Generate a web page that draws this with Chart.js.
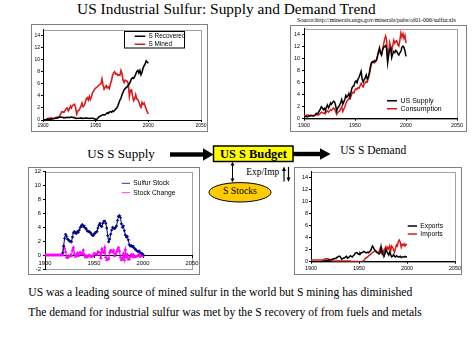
<!DOCTYPE html>
<html><head><meta charset="utf-8">
<script src="https://cdn.jsdelivr.net/npm/chart.js@4.4.0/dist/chart.umd.min.js"></script>
<style>
html,body{margin:0;padding:0;background:#fff;}
body{width:474px;height:355px;position:relative;overflow:hidden;font-family:'Liberation Serif','Times New Roman',serif;color:#000;}
.t{position:absolute;white-space:nowrap;line-height:1;font-family:'Liberation Serif','Times New Roman',serif;}
.frame{position:absolute;border:1px solid #808080;box-sizing:border-box;pointer-events:none;}
canvas{position:absolute;}
svg{position:absolute;left:0;top:0;}
</style></head><body>

<svg width="474" height="355" viewBox="0 0 474 355">
  <rect x="170" y="152.3" width="34" height="4.4" fill="#000"/>
  <polygon points="203,148.3 213.5,154.5 203,160.7" fill="#000"/>
  <rect x="293" y="151.8" width="28" height="4.4" fill="#000"/>
  <polygon points="320,148.3 330.5,154 320,159.7" fill="#000"/>
  <rect x="213.5" y="146" width="79.5" height="15.5" fill="#FFFF00" stroke="#000" stroke-width="1.5"/>
  <line x1="232.5" y1="164" x2="232.5" y2="180" stroke="#000" stroke-width="1"/>
  <polygon points="232.5,161.8 230.5,165.5 234.5,165.5" fill="#000"/>
  <polygon points="232.5,182.3 230.5,178.6 234.5,178.6" fill="#000"/>
  <ellipse cx="240" cy="192.3" rx="31" ry="9.7" fill="#FFCC00" stroke="#000" stroke-width="1"/>
  <line x1="284" y1="170" x2="284" y2="181.5" stroke="#000" stroke-width="1.2"/>
  <polygon points="284,166.5 282,171 286,171" fill="#000"/>
  <line x1="288.5" y1="167" x2="288.5" y2="178.5" stroke="#000" stroke-width="1.2"/>
  <polygon points="288.5,182 286.5,177.5 290.5,177.5" fill="#000"/>
</svg>

<div class="t" data-x="77" data-cy="9.3" data-w="299">US Industrial Sulfur: Supply and Demand Trend</div>
<div class="t" data-x="297" data-cy="20.3" data-w="159">Source:http://minerals.usgs.gov/minerals/pubs/of01-006/sulfur.xls</div>
<div class="t" data-x="87.3" data-cy="154" data-w="67.7">US S Supply</div>
<div class="t" data-x="340.3" data-cy="151" data-w="66">US S Demand</div>
<div class="t" data-x="220" data-cy="154" data-w="67" style="font-weight:bold">US S Budget</div>
<div class="t" data-x="223" data-cy="191" data-w="34">S Stocks</div>
<div class="t" data-x="246.3" data-cy="173.3" data-w="33">Exp/Imp</div>
<div class="t" data-x="28.3" data-cy="293.3" data-w="384.4">US was a leading source of mined sulfur in the world but S mining has diminished</div>
<div class="t" data-x="28.3" data-cy="313.3" data-w="393.7">The demand for industrial sulfur was met by the S recovery of from fuels and metals</div>

<canvas id="c1"></canvas><div class="frame" id="f1"></div>
<canvas id="c2"></canvas><div class="frame" id="f2"></div>
<canvas id="c3"></canvas><div class="frame" id="f3"></div>
<canvas id="c4"></canvas><div class="frame" id="f4"></div>

<script>
// ---------- data ----------
const years = Array.from({length: 101}, (_, i) => 1900 + i);
const xTickValues = [1900, 1950, 2000, 2050];
const yTicksFlow = [0, 2, 4, 6, 8, 10, 12, 14];
const yTicksStock = [-2, 0, 2, 4, 6, 8, 10, 12];

const recoveredS = [
  0.0,0.0,0.05,0.05,0.1,0.1,0.1,0.15,0.15,0.2,
  0.2,0.25,0.3,0.3,0.35,0.4,0.45,0.5,0.45,0.4,
  0.4,0.35,0.45,0.4,0.45,0.4,0.45,0.5,0.45,0.4,
  0.4,0.3,0.25,0.3,0.3,0.3,0.35,0.3,0.25,0.3,
  0.3,0.35,0.3,0.3,0.25,0.3,0.3,0.3,0.25,0.2,
  0.05,0.1,0.3,0.5,0.6,0.7,0.8,0.9,0.8,0.9,
  1.0,1.2,1.1,1.3,1.4,1.3,1.5,1.4,1.6,1.8,
  2.0,2.3,2.8,3.3,3.6,4.2,4.6,5.0,5.2,5.4,
  5.5,5.8,6.0,6.4,6.8,7.0,6.9,7.2,7.6,8.0,
  8.2,7.8,8.2,7.5,7.9,8.6,9.0,9.3,9.8,9.6,9.4
];
const minedS = [
  0.0,0.0,0.05,0.1,0.2,0.3,0.3,0.3,0.35,0.3,
  0.25,0.3,0.4,0.45,0.5,0.5,0.7,1.1,1.4,1.3,
  1.3,1.6,1.9,2.0,1.5,1.8,2.3,2.0,2.4,2.5,
  2.6,2.0,1.0,1.5,1.6,1.9,2.3,2.8,2.2,2.4,
  2.8,3.5,3.7,3.3,3.9,3.4,3.9,4.5,4.8,5.1,
  5.3,5.4,5.6,5.8,5.9,6.0,6.8,5.8,5.1,5.4,
  5.7,5.3,5.5,5.2,6.0,6.5,7.4,7.8,8.0,7.6,
  7.7,7.4,7.5,7.4,8.2,7.7,6.6,6.2,6.6,6.5,
  6.4,6.0,3.9,4.9,5.0,4.0,3.2,3.5,4.2,3.5,
  3.4,3.0,2.4,2.1,2.9,2.6,2.8,2.3,1.8,1.3,1.0
];
const supplyUS = [
  0.3,0.35,0.4,0.3,0.4,0.5,0.45,0.5,0.5,0.45,
  0.5,0.6,0.9,0.8,1.0,1.3,1.6,2.0,1.8,1.5,
  1.7,1.3,2.0,2.3,1.8,2.1,2.6,2.4,2.7,2.9,
  2.8,2.2,1.3,1.8,2.0,2.3,2.7,3.2,2.4,2.8,
  3.2,3.9,3.6,3.8,4.2,3.6,4.4,5.1,5.4,5.5,
  6.1,6.3,6.0,6.6,6.9,7.4,7.9,6.6,6.1,6.5,
  6.8,7.3,6.6,6.9,7.6,8.6,9.3,9.5,9.4,9.7,
  9.6,9.7,10.3,11.0,11.8,11.0,10.6,11.4,11.9,12.0,
  12.2,11.6,9.3,10.6,11.5,11.8,10.2,10.8,11.2,11.0,
  11.4,11.2,10.8,10.6,11.0,11.2,11.9,12.1,11.9,11.3,10.4
];
const consumptionUS = [
  0.6,0.5,0.5,0.6,0.6,0.5,0.55,0.6,0.55,0.5,
  0.6,0.6,0.65,0.7,0.6,0.7,0.9,1.1,1.0,0.9,
  1.0,0.8,1.2,1.3,1.1,1.3,1.5,1.4,1.6,1.8,
  1.6,1.2,0.7,1.0,1.2,1.3,1.7,2.0,1.2,1.6,
  1.9,2.5,2.9,3.1,3.4,3.3,3.7,4.2,4.4,4.3,
  4.8,5.0,4.9,5.2,5.1,5.5,5.9,5.5,5.3,5.8,
  6.0,6.2,6.1,6.7,7.3,8.2,9.0,9.5,9.4,9.3,
  9.4,9.8,10.6,11.2,11.6,10.9,10.7,11.5,12.4,13.2,
  13.8,13.1,10.1,11.2,12.7,12.0,11.0,12.2,13.1,12.6,
  12.9,13.0,12.3,12.1,13.1,14.3,13.6,14.2,13.4,13.9,12.6
];
const sulfurStock = [
  null,null,null,null,null,null,null,null,null,null,
  null,null,null,null,null,null,null,null,0.3,1.3,
  2.4,3.0,2.7,2.3,2.2,2.0,2.0,1.9,2.6,3.2,
  3.4,3.2,3.1,3.4,3.3,3.6,4.0,4.2,4.4,4.1,
  4.2,3.9,3.8,3.5,3.4,3.4,3.3,3.1,2.9,2.8,
  3.0,3.2,3.3,3.4,3.9,4.3,4.6,4.2,4.1,4.6,
  4.9,4.9,4.6,3.9,2.8,1.9,2.3,3.0,3.6,4.0,
  3.9,3.8,4.0,4.2,5.0,5.6,5.7,5.4,4.5,4.0,
  4.2,3.5,2.9,2.6,2.7,2.2,1.5,1.3,1.4,1.2,
  1.3,1.0,0.9,0.7,0.6,0.5,0.6,0.4,0.3,0.2,0.1
];
const stockChange = [
  0,0,0,0,0,0,0,0,0,0,
  0,0,0,0,0,0,0,0,0,1.3,
  1.0,0.5,-0.3,-0.4,-0.1,-0.2,0.0,-0.1,0.7,1.1,
  0.2,-0.2,-0.1,0.3,-0.1,0.3,0.4,0.2,0.1,0.7,
  0.1,-0.3,-0.1,-0.3,-0.1,0.0,-0.1,-0.2,-0.2,-0.1,
  0.2,0.2,0.1,0.1,0.5,0.4,0.3,-0.4,0.9,0.5,
  0.3,1.1,-0.3,-0.7,-0.6,-0.5,0.4,0.7,0.6,0.4,
  0.7,-0.1,0.2,0.5,0.8,1.1,0.6,-0.3,-0.7,-0.5,
  0.2,-0.7,0.8,-0.3,0.1,-0.6,-0.6,-0.2,0.1,-0.2,
  0.1,-0.3,-0.2,-0.2,-0.1,-0.1,0.1,-0.2,-0.1,-0.1,-0.1
];
const exportsS = [
  0,0,0,0,0,0,0,0,0,0,
  0,0,0.05,0.1,0.1,0.15,0.2,0.2,0.25,0.3,
  0.3,0.35,0.4,0.5,0.45,0.55,0.6,0.7,0.8,0.9,
  0.9,0.7,0.4,0.5,0.6,0.6,0.8,0.9,0.6,0.7,
  0.8,1.0,0.9,0.8,1.0,1.1,1.4,1.5,1.5,1.3,
  1.2,1.5,1.4,1.5,1.6,1.7,1.6,1.5,1.5,1.6,
  1.5,1.7,1.8,2.2,2.6,2.4,2.0,1.9,1.6,1.5,
  1.4,1.3,1.5,2.5,1.6,1.2,1.0,1.3,2.0,1.7,
  1.4,1.1,1.6,1.2,0.8,0.9,1.2,0.9,0.8,1.0,
  0.9,0.8,0.8,0.9,0.7,0.8,0.8,0.8,0.9,0.8,0.8
];
const importsS = [
  0.3,0.3,0.3,0.3,0.3,0.3,0.3,0.3,0.3,0.3,
  0.3,0.3,0.3,0.35,0.4,0.5,0.5,0.5,0.45,0.4,
  0.3,0.2,0.15,0.1,0.1,0.1,0.1,0.1,0.1,0.1,
  0.1,0.1,0.1,0.1,0.1,0.1,0.1,0.1,0.1,0.1,
  0.1,0.1,0.05,0.05,0.05,0.05,0.05,0.05,0.05,0.05,
  0.0,0.0,0.0,0.05,0.1,0.2,0.4,0.6,0.7,0.8,
  1.0,1.1,1.2,1.4,1.5,1.6,1.7,1.8,1.7,1.6,
  1.5,1.7,2.2,1.6,1.3,1.9,1.4,2.2,2.5,2.0,
  2.4,2.1,2.6,1.8,2.6,2.4,2.0,1.6,2.2,2.8,
  2.6,3.4,3.6,3.2,2.4,2.9,2.7,3.0,2.6,2.9,2.8
];

// ---------- text fitting ----------
document.querySelectorAll('.t').forEach(el => {
  el.style.fontSize = '20px';
  const w = el.getBoundingClientRect().width;
  const fs = 20 * (+el.dataset.w) / w;
  el.style.fontSize = fs + 'px';
  el.style.left = el.dataset.x + 'px';
  el.style.top = (+el.dataset.cy - 0.51 * fs) + 'px';
});

// ---------- plugins ----------
const plotBox = {
  id: 'plotBox',
  beforeDraw(chart, args, o) {
    const a = chart.chartArea, c = chart.ctx;
    c.save();
    c.strokeStyle = o.color || '#9a9a9a';
    c.lineWidth = 1;
    c.strokeRect(Math.round(a.left) + 0.5, Math.round(a.top) + 0.5,
      Math.round(a.right) - Math.round(a.left), Math.round(a.bottom) - Math.round(a.top));
    c.restore();
  },
  afterDraw(chart, args, o) {
    if (!o.legendFrame) return;
    const lg = chart.legend, c = chart.ctx;
    c.save();
    c.strokeStyle = '#000';
    c.lineWidth = 1;
    const x0 = Math.round(lg.left - o.legendFrame[0]) + 0.5;
    const y0 = Math.round(lg.top) + 0.5;
    c.strokeRect(x0, y0, o.legendFrame[1], o.legendFrame[2]);
    c.restore();
  }
};
const legendPlace = {
  id: 'legendPlace',
  afterLayout(chart, args, o) {
    const lg = chart.legend;
    if (!lg || o.x === undefined) return;
    const lab = chart.options.plugins.legend.labels;
    lg.left = o.x - lab.padding;
    lg.top = o.y - lab.padding - lab.font.size / 2;
    lg.right = lg.left + 120;
    lg.bottom = lg.top + 60;
  }
};

function makeChart(id, g, datasets, yRange, yTicks, s) {
  const cv = document.getElementById(id);
  cv.width = g.fw; cv.height = g.fh;
  cv.style.left = g.fx + 'px'; cv.style.top = g.fy + 'px';
  const fr = document.getElementById('f' + id.slice(1));
  fr.style.left = g.fx + 'px'; fr.style.top = g.fy + 'px';
  fr.style.width = g.fw + 'px'; fr.style.height = g.fh + 'px';
  const yW = g.l - g.fx;
  const xH = g.fy + g.fh - g.b;
  const tickFont = {family: 'Liberation Sans', size: s.tickFs};
  return new Chart(cv, {
    type: 'line',
    data: {labels: years, datasets},
    options: {
      responsive: false, animation: false, devicePixelRatio: 1,
      events: [],
      layout: {padding: {left: 0, top: g.t - g.fy, right: g.fx + g.fw - g.r, bottom: s.centerX ? g.fy + g.fh - g.b : 0}},
      elements: {line: {tension: 0}, point: {radius: 0}},
      scales: {
        x: {
          type: 'linear', min: 1900, max: 2050,
          position: s.centerX ? {y: 0} : 'bottom',
          afterBuildTicks: sc => { sc.ticks = xTickValues.map(v => ({value: v})); },
          afterFit: sc => { if (!s.centerX) sc.height = xH; sc.paddingLeft = 0; sc.paddingRight = 0; },
          ticks: {font: tickFont, color: '#000', padding: s.xPad, maxRotation: 0, autoSkip: false, callback: v => String(v)},
          grid: {display: true, drawOnChartArea: false, drawTicks: true, tickLength: 2, color: '#000'},
          border: {display: true, color: '#000', width: 1}
        },
        y: {
          type: 'linear', min: yRange[0], max: yRange[1],
          afterBuildTicks: sc => { sc.ticks = yTicks.map(v => ({value: v})); },
          afterFit: sc => { sc.width = yW; sc.paddingTop = 0; sc.paddingBottom = 0; },
          ticks: {font: tickFont, color: '#000', padding: s.yPad, callback: v => String(v)},
          grid: {display: true, drawOnChartArea: false, drawTicks: true, tickLength: 2, color: '#000'},
          border: {display: true, color: '#000', width: 1}
        }
      },
      plugins: {
        tooltip: {enabled: false},
        legend: {
          display: true, position: 'chartArea', align: 'start',
          labels: {
            usePointStyle: true, pointStyle: 'line', pointStyleWidth: s.lg.sw,
            font: {family: 'Liberation Sans', size: s.lg.fs}, color: '#000',
            padding: s.lg.gap - s.lg.fs
          }
        },
        legendPlace: {x: s.lg.x - g.fx, y: s.lg.y - g.fy},
        plotBox: {color: '#a0a0a0', legendFrame: s.lg.frame}
      }
    },
    plugins: [plotBox, legendPlace]
  });
}

const RED = '#d81c1c';

makeChart('c1', {fx: 31, fy: 24, fw: 177, fh: 108, l: 43, t: 29.5, r: 201, b: 120}, [
  {label: 'S Recovered', data: recoveredS, borderColor: '#000', backgroundColor: '#000', borderWidth: 1.6},
  {label: 'S Mined', data: minedS, borderColor: RED, backgroundColor: RED, borderWidth: 1.6}
], [0, 15], yTicksFlow, {tickFs: 5, xPad: 1, yPad: 1,
  lg: {x: 134.7, y: 36.3, gap: 8, fs: 6.4, sw: 10.6, frame: [8.7, 60, 16.5]}});

makeChart('c2', {fx: 290, fy: 25, fw: 177, fh: 107, l: 304, t: 28.7, r: 457, b: 118.7}, [
  {label: 'US Supply', data: supplyUS, borderColor: '#000', backgroundColor: '#000', borderWidth: 1.5},
  {label: 'Consumption', data: consumptionUS, borderColor: RED, backgroundColor: RED, borderWidth: 1.5}
], [0, 15], yTicksFlow, {tickFs: 5.3, xPad: 2, yPad: 2,
  lg: {x: 387, y: 100.7, gap: 8, fs: 7, sw: 10}});

makeChart('c3', {fx: 28, fy: 167, fw: 172, fh: 108, l: 45, t: 171, r: 192, b: 269}, [
  {label: 'Sulfur Stock', data: sulfurStock, borderColor: '#000080', backgroundColor: '#000080', borderWidth: 1,
   pointRadius: 1.2, pointStyle: 'rectRot', pointBorderWidth: 0.8},
  {label: 'Stock Change', data: stockChange, borderColor: '#ff00ff', backgroundColor: '#ff00ff', borderWidth: 1.2,
   pointRadius: 1.4, pointStyle: 'triangle', pointBorderWidth: 0.8}
], [-2, 12], yTicksStock, {tickFs: 5.8, xPad: 3, yPad: 2, centerX: true,
  lg: {x: 121.7, y: 183.3, gap: 9.4, fs: 6.7, sw: 8.3}});

makeChart('c4', {fx: 294, fy: 167, fw: 168, fh: 108, l: 311, t: 171.6, r: 455, b: 261.7}, [
  {label: 'Exports', data: exportsS, borderColor: '#000', backgroundColor: '#000', borderWidth: 1.5},
  {label: 'Imports', data: importsS, borderColor: RED, backgroundColor: RED, borderWidth: 1.5}
], [0, 15], yTicksFlow, {tickFs: 5.5, xPad: 1, yPad: 1,
  lg: {x: 407.7, y: 226, gap: 8, fs: 6.7, sw: 9.3}});
</script>
</body></html>
